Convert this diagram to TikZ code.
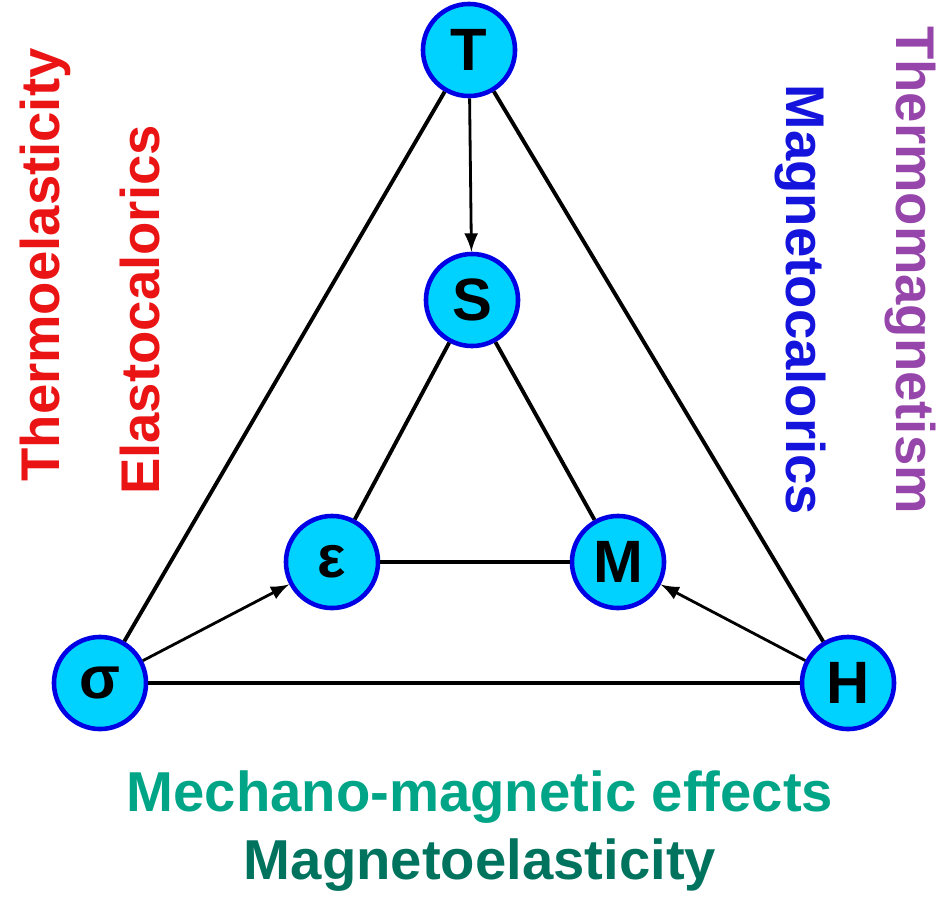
\documentclass[tikz,border=0pt]{standalone}
\usepackage{fontspec}
\setmainfont{Liberation Sans}
\begin{document}
\begin{tikzpicture}[x=0.01cm,y=-0.01cm,
  var/.style={circle,draw=blue!90!black,line width=1.3pt,fill={rgb,255:red,0;green,210;blue,255},minimum size=0.92cm,inner sep=0pt,font=\bfseries\fontsize{17}{19}\selectfont},
  edge/.style={line width=1.1pt},
  arr/.style={line width=0.8pt,-latex},
  lab/.style={font=\bfseries\fontsize{15.5}{18}\selectfont},
  blab/.style={font=\bfseries\fontsize{16}{18}\selectfont}]
\useasboundingbox (0,0) rectangle (946,909);
\definecolor{cred}{RGB}{235,20,20}
\definecolor{cblue}{RGB}{20,20,220}
\definecolor{cpurple}{RGB}{150,70,170}
\definecolor{cteal}{RGB}{0,165,135}
\definecolor{cdteal}{RGB}{0,115,95}
\node[var] (T) at (469,50) {T};
\node[var] (S) at (472,300) {S};
\node[var] (E) at (332,562) {ε};
\node[var] (M) at (618,562) {M};
\node[var] (G) at (100,683) {σ};
\node[var] (H) at (848,683) {H};
\draw[edge] (T) -- (G);
\draw[edge] (T) -- (H);
\draw[edge] (G) -- (H);
\draw[edge] (S) -- (E);
\draw[edge] (S) -- (M);
\draw[edge] (E) -- (M);
\draw[arr] (T) -- (S);
\draw[arr] (G) -- (E);
\draw[arr] (H) -- (M);
\node[lab,text=cred,rotate=90] (l1) at (45,265) {Thermoelasticity};
\node[lab,text=cred,rotate=90] (l2) at (140,310) {Elastocalorics};
\node[lab,text=cblue,rotate=-90] (l3) at (800,300) {Magnetocalorics};
\node[lab,text=cpurple,rotate=-90] (l4) at (910,270) {Thermomagnetism};
\node[blab,text=cteal] (l5) at (480,797) {Mechano-magnetic effects};
\node[blab,text=cdteal] (l6) at (480,865) {Magnetoelasticity};
\end{tikzpicture}
\end{document}
